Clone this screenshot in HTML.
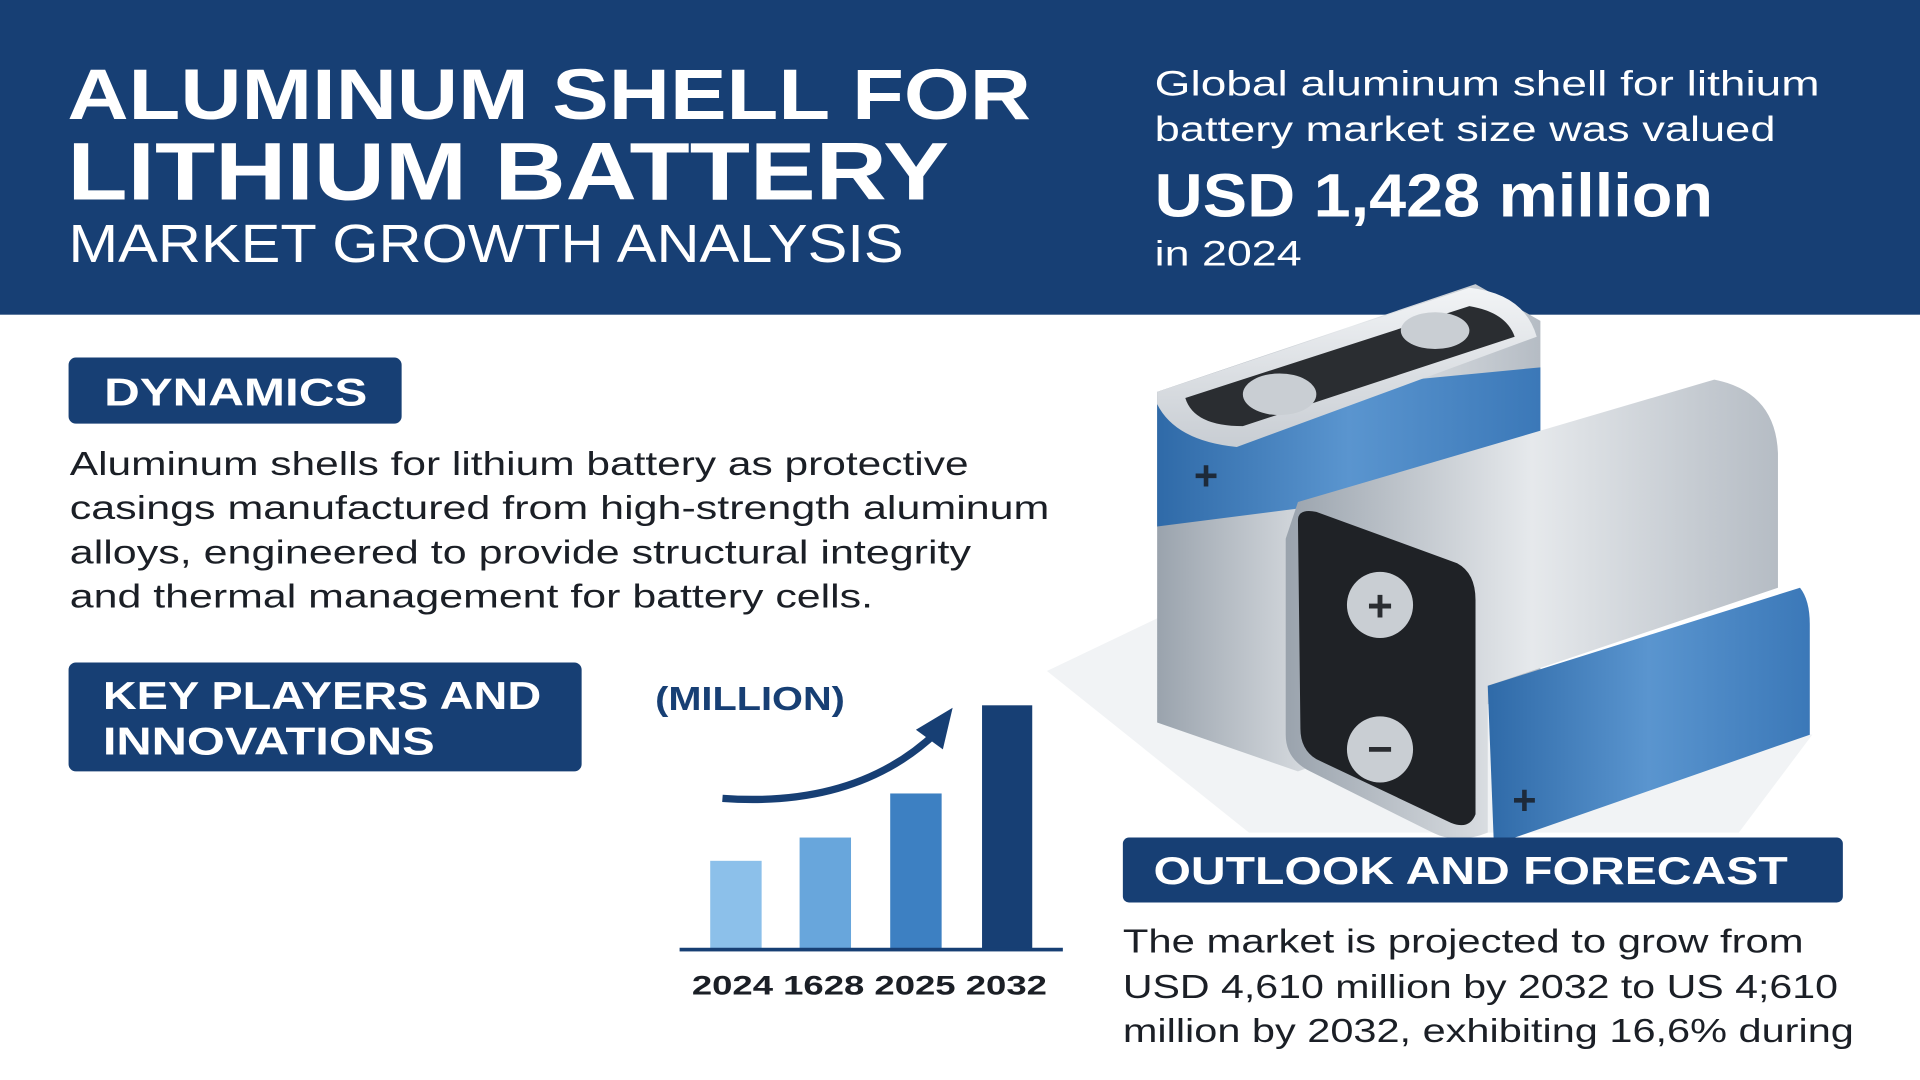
<!DOCTYPE html>
<html><head><meta charset="utf-8"><style>
html,body{margin:0;padding:0;width:1920px;height:1080px;overflow:hidden;background:#fff}
svg{display:block}
text{font-family:"Liberation Sans",sans-serif}
</style></head><body>
<svg width="1920" height="1080" viewBox="0 0 1568 882" xmlns="http://www.w3.org/2000/svg">
<defs>
<linearGradient id="sil" x1="0" y1="0" x2="1" y2="0"><stop offset="0" stop-color="#9aa3ad"/><stop offset="0.5" stop-color="#e6e9ec"/><stop offset="1" stop-color="#b5bcc4"/></linearGradient>
<linearGradient id="blu" x1="0" y1="0" x2="1" y2="0"><stop offset="0" stop-color="#2f6aa8"/><stop offset="0.5" stop-color="#5a95cf"/><stop offset="1" stop-color="#3b78b8"/></linearGradient>
<linearGradient id="top" x1="0" y1="0" x2="0" y2="1"><stop offset="0" stop-color="#f2f4f6"/><stop offset="1" stop-color="#c8cdd3"/></linearGradient>
</defs>
<rect x="0" y="0" width="1568" height="257" fill="#173f74"/>
<text x="55" y="97" fill="#fff" font-weight="bold" font-size="58" textLength="787" lengthAdjust="spacingAndGlyphs">ALUMINUM SHELL FOR</text>
<text x="55" y="163" fill="#fff" font-weight="bold" font-size="67" textLength="720" lengthAdjust="spacingAndGlyphs">LITHIUM BATTERY</text>
<text x="56" y="214" fill="#fff" font-size="44" textLength="682" lengthAdjust="spacingAndGlyphs">MARKET GROWTH ANALYSIS</text>
<text x="943" y="78" fill="#fff" font-size="29" textLength="543" lengthAdjust="spacingAndGlyphs">Global aluminum shell for lithium</text>
<text x="943" y="115" fill="#fff" font-size="29" textLength="507" lengthAdjust="spacingAndGlyphs">battery market size was valued</text>
<text x="943" y="177" fill="#fff" font-weight="bold" font-size="50" textLength="456" lengthAdjust="spacingAndGlyphs">USD 1,428 million</text>
<text x="943" y="217" fill="#fff" font-size="29" textLength="120" lengthAdjust="spacingAndGlyphs">in 2024</text>

<polygon points="855,548 945,505 1480,600 1420,680 1020,680" fill="#f1f3f5"/>
<path d="M945,320 L1205,232 L1258,262 L1258,560 L1060,630 L945,590 Z" fill="url(#sil)"/>
<path d="M945,330 L1258,300 L1258,390 L945,430 Z" fill="url(#blu)"/>
<path d="M945,320 L1200,235 Q1245,240 1255,275 L1010,365 Q960,360 945,330 Z" fill="url(#top)"/>
<path d="M968,325 L1200,250 Q1230,255 1237,275 L1015,348 Q975,348 968,325 Z" fill="#2a2d31"/>
<ellipse cx="1045" cy="322" rx="30" ry="17" fill="#c9ced3"/><ellipse cx="1172" cy="270" rx="28" ry="15" fill="#c9ced3"/>
<text x="975" y="400" fill="#1d2a3a" font-weight="bold" font-size="34">+</text>
<path d="M1060,410 L1400,310 Q1450,320 1452,370 L1452,480 L1215,560 L1215,680 Q1190,690 1170,680 L1070,630 Q1050,620 1050,600 L1050,440 Z" fill="url(#sil)"/>
<path d="M1215,560 L1470,480 Q1478,490 1478,510 L1478,600 L1220,690 Z" fill="url(#blu)"/>
<path d="M1060,425 Q1060,415 1075,418 L1190,460 Q1205,468 1205,490 L1205,665 Q1200,678 1185,672 L1075,620 Q1062,612 1062,595 Z" fill="#1f2226"/>
<circle cx="1127" cy="494" r="27" fill="#c9ced3"/><text x="1127" y="507" text-anchor="middle" fill="#2a2d31" font-weight="bold" font-size="36">+</text>
<circle cx="1127" cy="612" r="27" fill="#c9ced3"/><text x="1127" y="624" text-anchor="middle" fill="#2a2d31" font-weight="bold" font-size="36">−</text>
<text x="1235" y="665" fill="#1d2a3a" font-weight="bold" font-size="34">+</text>

<rect x="56" y="292" width="272" height="54" rx="6" fill="#173f74"/>
<text x="85" y="331" fill="#fff" font-weight="bold" font-size="32" textLength="215" lengthAdjust="spacingAndGlyphs">DYNAMICS</text>
<g fill="#1b1f26" font-size="27">
<text x="57" y="388" textLength="734" lengthAdjust="spacingAndGlyphs">Aluminum shells for lithium battery as protective</text>
<text x="57" y="424" textLength="800" lengthAdjust="spacingAndGlyphs">casings manufactured from high-strength aluminum</text>
<text x="57" y="460" textLength="736" lengthAdjust="spacingAndGlyphs">alloys, engineered to provide structural integrity</text>
<text x="57" y="496" textLength="656" lengthAdjust="spacingAndGlyphs">and thermal management for battery cells.</text>
</g>
<rect x="56" y="541" width="419" height="89" rx="6" fill="#173f74"/>
<text x="84" y="579" fill="#fff" font-weight="bold" font-size="32" textLength="358" lengthAdjust="spacingAndGlyphs">KEY PLAYERS AND</text>
<text x="84" y="616" fill="#fff" font-weight="bold" font-size="32" textLength="271" lengthAdjust="spacingAndGlyphs">INNOVATIONS</text>

<text x="535" y="580" fill="#173f74" font-weight="bold" font-size="27" textLength="155" lengthAdjust="spacingAndGlyphs">(MILLION)</text>
<path d="M590,652 Q700,660 765,598" stroke="#173f74" stroke-width="6" fill="none"/>
<polygon points="778,578 748,596 770,612" fill="#173f74"/>
<rect x="580" y="703" width="42" height="73" fill="#8cc0ea"/>
<rect x="653" y="684" width="42" height="92" fill="#68a6dc"/>
<rect x="727" y="648" width="42" height="128" fill="#3d80c2"/>
<rect x="802" y="576" width="41" height="200" fill="#173f74"/>
<rect x="555" y="774" width="313" height="3" fill="#173f74"/>
<text x="565" y="812" fill="#1b1f26" font-weight="bold" font-size="22" textLength="290" lengthAdjust="spacingAndGlyphs">2024 1628 2025 2032</text>

<rect x="917" y="684" width="588" height="53" rx="5" fill="#173f74"/>
<text x="942" y="722" fill="#fff" font-weight="bold" font-size="32" textLength="518" lengthAdjust="spacingAndGlyphs">OUTLOOK AND FORECAST</text>
<g fill="#1b1f26" font-size="27">
<text x="917" y="778" textLength="556" lengthAdjust="spacingAndGlyphs">The market is projected to grow from</text>
<text x="917" y="815" textLength="584" lengthAdjust="spacingAndGlyphs">USD 4,610 million by 2032 to US 4;610</text>
<text x="917" y="851" textLength="597" lengthAdjust="spacingAndGlyphs">million by 2032, exhibiting 16,6% during</text>
</g>
</svg>
</body></html>
